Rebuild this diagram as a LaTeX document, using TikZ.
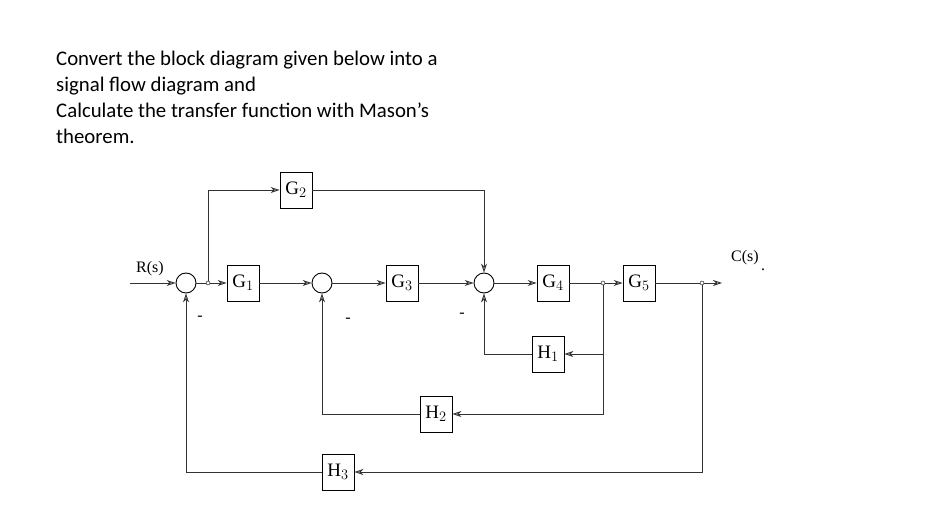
\documentclass[tikz,border=0pt]{standalone}
\usepackage{fontspec}
\setmainfont{Carlito}
\newfontfamily\diag{Liberation Serif}
\usetikzlibrary{arrows.meta}
\begin{document}
\begin{tikzpicture}[x=1pt,y=-1pt,
  blk/.style={draw,line width=0.9pt,minimum width=32pt,minimum height=36pt,inner sep=0pt,font=\diag\fontsize{19}{19}\selectfont},
  sumj/.style={draw,circle,line width=0.9pt,minimum size=20pt,inner sep=0pt},
  dotj/.style={circle,draw,fill=white,inner sep=0pt,minimum size=4pt},
  ln/.style={line width=0.9pt,draw=black!80},
  ar/.style={ln,-{Stealth[length=9pt,width=6pt,open]}},
  lab/.style={font=\diag\fontsize{16}{16}\selectfont}]
\useasboundingbox (0,0) rectangle (949,529);
\node[anchor=west,font=\fontsize{20.8}{26}\selectfont,align=left,inner sep=0pt] (txt) at (56,97)
 {Convert the block diagram given below into a\\signal flow diagram and\\Calculate the transfer function with Mason\char"27 s\\theorem.};
\coordinate (in) at (130,283);
\node[sumj] (s1) at (186,283) {};
\coordinate (b1) at (208,283);
\node[blk] (g1) at (243,283) {G$_1$};
\node[sumj] (s2) at (322,283) {};
\node[blk] (g3) at (402,283) {G$_3$};
\node[sumj] (s3) at (484,283) {};
\node[blk] (g4) at (553,283) {G$_4$};
\coordinate (b2) at (603,283);
\node[blk] (g5) at (639,283) {G$_5$};
\coordinate (b3) at (702,283);
\coordinate (out) at (722,283);
\node[blk] (g2) at (296,190) {G$_2$};
\node[blk] (h1) at (548,354) {H$_1$};
\node[blk] (h2) at (436,414) {H$_2$};
\node[blk] (h3) at (338,472) {H$_3$};
\node[lab] (r) at (150,269) {R(s)};
\node[lab] (c) at (745,258) {C(s)};
\draw[ar] (in) -- (s1);
\draw[ln] (s1) -- (b1);
\draw[ar] (b1) -- (g1);
\draw[ar] (g1) -- (s2);
\draw[ar] (s2) -- (g3);
\draw[ar] (g3) -- (s3);
\draw[ar] (s3) -- (g4);
\draw[ln] (g4) -- (b2);
\draw[ar] (b2) -- (g5);
\draw[ln] (g5) -- (b3);
\draw[ar] (b3) -- (out);
\draw[ar] (b1) |- (g2);
\draw[ar] (g2.east) -| (s3);
\draw[ar] (b2) |- (h1);
\draw[ar] (h1) -| (s3);
\draw[ar] (b2) |- (h2);
\draw[ar] (h2) -| (s2);
\draw[ar] (b3) |- (h3);
\draw[ar] (h3) -| (s1);
\node[dotj] (d1) at (b1) {};
\node[dotj] (d2) at (b2) {};
\node[dotj] (d3) at (b3) {};
\node[lab] (m1) at (200,318) {-};
\node[lab] (m2) at (348,320) {-};
\node[lab] (m3) at (462,315) {-};
\node[lab] (dot) at (763,270) {.};
\end{tikzpicture}
\end{document}
